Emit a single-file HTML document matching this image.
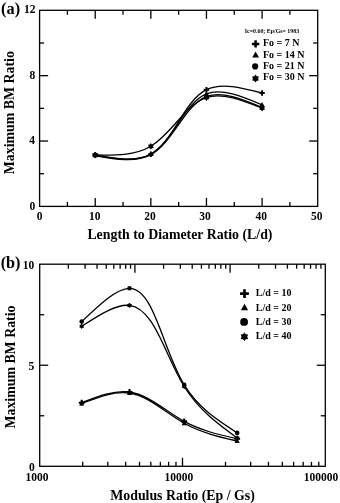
<!DOCTYPE html>
<html><head><meta charset="utf-8"><style>
html,body{margin:0;padding:0;background:#fff;}
body{width:340px;height:503px;overflow:hidden;}
svg{display:block;}
text{font-family:"Liberation Serif","Times New Roman",serif;font-weight:bold;fill:#000;}
</style></head><body>
<svg width="340" height="503" viewBox="0 0 340 503">
<g stroke="#000" fill="#000" stroke-linecap="butt">
<rect x="39.6" y="10.3" width="278.10" height="196.10" fill="none" stroke-width="1.3"/>
<line x1="67.41" y1="206.40" x2="67.41" y2="201.90" stroke-width="1.3"/>
<line x1="67.41" y1="10.30" x2="67.41" y2="14.80" stroke-width="1.3"/>
<line x1="95.22" y1="206.40" x2="95.22" y2="197.90" stroke-width="1.3"/>
<line x1="95.22" y1="10.30" x2="95.22" y2="18.80" stroke-width="1.3"/>
<line x1="123.03" y1="206.40" x2="123.03" y2="201.90" stroke-width="1.3"/>
<line x1="123.03" y1="10.30" x2="123.03" y2="14.80" stroke-width="1.3"/>
<line x1="150.84" y1="206.40" x2="150.84" y2="197.90" stroke-width="1.3"/>
<line x1="150.84" y1="10.30" x2="150.84" y2="18.80" stroke-width="1.3"/>
<line x1="178.65" y1="206.40" x2="178.65" y2="201.90" stroke-width="1.3"/>
<line x1="178.65" y1="10.30" x2="178.65" y2="14.80" stroke-width="1.3"/>
<line x1="206.46" y1="206.40" x2="206.46" y2="197.90" stroke-width="1.3"/>
<line x1="206.46" y1="10.30" x2="206.46" y2="18.80" stroke-width="1.3"/>
<line x1="234.27" y1="206.40" x2="234.27" y2="201.90" stroke-width="1.3"/>
<line x1="234.27" y1="10.30" x2="234.27" y2="14.80" stroke-width="1.3"/>
<line x1="262.08" y1="206.40" x2="262.08" y2="197.90" stroke-width="1.3"/>
<line x1="262.08" y1="10.30" x2="262.08" y2="18.80" stroke-width="1.3"/>
<line x1="289.89" y1="206.40" x2="289.89" y2="201.90" stroke-width="1.3"/>
<line x1="289.89" y1="10.30" x2="289.89" y2="14.80" stroke-width="1.3"/>
<line x1="39.60" y1="173.72" x2="44.10" y2="173.72" stroke-width="1.3"/>
<line x1="317.70" y1="173.72" x2="313.20" y2="173.72" stroke-width="1.3"/>
<line x1="39.60" y1="141.03" x2="48.10" y2="141.03" stroke-width="1.3"/>
<line x1="317.70" y1="141.03" x2="309.20" y2="141.03" stroke-width="1.3"/>
<line x1="39.60" y1="108.35" x2="44.10" y2="108.35" stroke-width="1.3"/>
<line x1="317.70" y1="108.35" x2="313.20" y2="108.35" stroke-width="1.3"/>
<line x1="39.60" y1="75.67" x2="48.10" y2="75.67" stroke-width="1.3"/>
<line x1="317.70" y1="75.67" x2="309.20" y2="75.67" stroke-width="1.3"/>
<line x1="39.60" y1="42.98" x2="44.10" y2="42.98" stroke-width="1.3"/>
<line x1="317.70" y1="42.98" x2="313.20" y2="42.98" stroke-width="1.3"/>
<path d="M95.22,155.00 C115.58,158.76 135.94,162.53 150.84,154.30 C173.67,141.69 183.67,100.91 206.46,89.70 C221.36,82.38 241.72,87.69 262.08,93.00" fill="none" stroke-width="1.3"/>
<path d="M95.22,155.30 C115.45,158.92 135.68,162.54 150.84,154.00 C173.18,141.42 184.53,102.47 206.46,93.80 C221.63,87.80 241.85,96.30 262.08,104.80" fill="none" stroke-width="1.3"/>
<path d="M95.22,155.50 C115.39,159.24 135.56,162.98 150.84,154.60 C172.91,142.49 184.78,105.09 206.46,96.60 C221.75,90.62 241.91,99.01 262.08,107.40" fill="none" stroke-width="1.3"/>
<path d="M95.22,155.00 C115.09,155.38 134.95,155.76 150.84,146.30 C171.70,133.88 185.70,104.48 206.46,97.60 C222.36,92.33 242.22,100.26 262.08,108.20" fill="none" stroke-width="1.3"/>
<path d="M92.52,155.00H97.92M95.22,152.30V157.70" stroke-width="1.9" fill="none"/>
<path d="M148.14,154.30H153.54M150.84,151.60V157.00" stroke-width="1.9" fill="none"/>
<path d="M203.76,89.70H209.16M206.46,87.00V92.40" stroke-width="1.9" fill="none"/>
<path d="M259.38,93.00H264.78M262.08,90.30V95.70" stroke-width="1.9" fill="none"/>
<path d="M95.22,152.47L97.92,157.33L92.52,157.33Z" stroke="none"/>
<path d="M150.84,151.16L153.54,156.03L148.14,156.03Z" stroke="none"/>
<path d="M206.46,90.97L209.16,95.83L203.76,95.83Z" stroke="none"/>
<path d="M262.08,101.97L264.78,106.83L259.38,106.83Z" stroke="none"/>
<circle cx="95.22" cy="155.50" r="2.1" stroke="none"/>
<circle cx="150.84" cy="154.60" r="2.1" stroke="none"/>
<circle cx="206.46" cy="96.60" r="2.1" stroke="none"/>
<circle cx="262.08" cy="107.40" r="2.1" stroke="none"/>
<polygon points="95.22,151.70 96.31,153.11 98.08,153.35 97.40,155.00 98.08,156.65 96.31,156.89 95.22,158.30 94.13,156.89 92.36,156.65 93.04,155.00 92.36,153.35 94.13,153.11" stroke="none"/>
<polygon points="150.84,143.00 151.93,144.41 153.70,144.65 153.02,146.30 153.70,147.95 151.93,148.19 150.84,149.60 149.75,148.19 147.98,147.95 148.66,146.30 147.98,144.65 149.75,144.41" stroke="none"/>
<polygon points="206.46,94.30 207.55,95.71 209.32,95.95 208.64,97.60 209.32,99.25 207.55,99.49 206.46,100.90 205.37,99.49 203.60,99.25 204.28,97.60 203.60,95.95 205.37,95.71" stroke="none"/>
<polygon points="262.08,104.90 263.17,106.31 264.94,106.55 264.26,108.20 264.94,109.85 263.17,110.09 262.08,111.50 260.99,110.09 259.22,109.85 259.90,108.20 259.22,106.55 260.99,106.31" stroke="none"/>
<rect x="39.7" y="264.2" width="285.60" height="202.10" fill="none" stroke-width="1.3"/>
<line x1="82.69" y1="466.30" x2="82.69" y2="461.80" stroke-width="1.3"/>
<line x1="107.83" y1="466.30" x2="107.83" y2="461.80" stroke-width="1.3"/>
<line x1="125.67" y1="466.30" x2="125.67" y2="461.80" stroke-width="1.3"/>
<line x1="139.51" y1="466.30" x2="139.51" y2="461.80" stroke-width="1.3"/>
<line x1="150.82" y1="466.30" x2="150.82" y2="461.80" stroke-width="1.3"/>
<line x1="160.38" y1="466.30" x2="160.38" y2="461.80" stroke-width="1.3"/>
<line x1="168.66" y1="466.30" x2="168.66" y2="461.80" stroke-width="1.3"/>
<line x1="175.97" y1="466.30" x2="175.97" y2="461.80" stroke-width="1.3"/>
<line x1="182.50" y1="466.30" x2="182.50" y2="457.80" stroke-width="1.3"/>
<line x1="225.49" y1="466.30" x2="225.49" y2="461.80" stroke-width="1.3"/>
<line x1="250.63" y1="466.30" x2="250.63" y2="461.80" stroke-width="1.3"/>
<line x1="268.47" y1="466.30" x2="268.47" y2="461.80" stroke-width="1.3"/>
<line x1="282.31" y1="466.30" x2="282.31" y2="461.80" stroke-width="1.3"/>
<line x1="293.62" y1="466.30" x2="293.62" y2="461.80" stroke-width="1.3"/>
<line x1="303.18" y1="466.30" x2="303.18" y2="461.80" stroke-width="1.3"/>
<line x1="311.46" y1="466.30" x2="311.46" y2="461.80" stroke-width="1.3"/>
<line x1="318.77" y1="466.30" x2="318.77" y2="461.80" stroke-width="1.3"/>
<line x1="68.36" y1="264.20" x2="68.36" y2="268.70" stroke-width="1.3"/>
<line x1="85.12" y1="264.20" x2="85.12" y2="268.70" stroke-width="1.3"/>
<line x1="97.02" y1="264.20" x2="97.02" y2="268.70" stroke-width="1.3"/>
<line x1="106.24" y1="264.20" x2="106.24" y2="268.70" stroke-width="1.3"/>
<line x1="113.78" y1="264.20" x2="113.78" y2="268.70" stroke-width="1.3"/>
<line x1="120.15" y1="264.20" x2="120.15" y2="268.70" stroke-width="1.3"/>
<line x1="125.67" y1="264.20" x2="125.67" y2="268.70" stroke-width="1.3"/>
<line x1="130.54" y1="264.20" x2="130.54" y2="268.70" stroke-width="1.3"/>
<line x1="134.90" y1="264.20" x2="134.90" y2="272.70" stroke-width="1.3"/>
<line x1="163.56" y1="264.20" x2="163.56" y2="268.70" stroke-width="1.3"/>
<line x1="180.32" y1="264.20" x2="180.32" y2="268.70" stroke-width="1.3"/>
<line x1="192.22" y1="264.20" x2="192.22" y2="268.70" stroke-width="1.3"/>
<line x1="201.44" y1="264.20" x2="201.44" y2="268.70" stroke-width="1.3"/>
<line x1="208.98" y1="264.20" x2="208.98" y2="268.70" stroke-width="1.3"/>
<line x1="215.35" y1="264.20" x2="215.35" y2="268.70" stroke-width="1.3"/>
<line x1="220.87" y1="264.20" x2="220.87" y2="268.70" stroke-width="1.3"/>
<line x1="225.74" y1="264.20" x2="225.74" y2="268.70" stroke-width="1.3"/>
<line x1="230.10" y1="264.20" x2="230.10" y2="272.70" stroke-width="1.3"/>
<line x1="258.76" y1="264.20" x2="258.76" y2="268.70" stroke-width="1.3"/>
<line x1="275.52" y1="264.20" x2="275.52" y2="268.70" stroke-width="1.3"/>
<line x1="287.42" y1="264.20" x2="287.42" y2="268.70" stroke-width="1.3"/>
<line x1="296.64" y1="264.20" x2="296.64" y2="268.70" stroke-width="1.3"/>
<line x1="304.18" y1="264.20" x2="304.18" y2="268.70" stroke-width="1.3"/>
<line x1="310.55" y1="264.20" x2="310.55" y2="268.70" stroke-width="1.3"/>
<line x1="316.07" y1="264.20" x2="316.07" y2="268.70" stroke-width="1.3"/>
<line x1="320.94" y1="264.20" x2="320.94" y2="268.70" stroke-width="1.3"/>
<line x1="39.70" y1="415.77" x2="44.20" y2="415.77" stroke-width="1.3"/>
<line x1="325.30" y1="415.77" x2="320.80" y2="415.77" stroke-width="1.3"/>
<line x1="39.70" y1="365.25" x2="48.20" y2="365.25" stroke-width="1.3"/>
<line x1="325.30" y1="365.25" x2="316.80" y2="365.25" stroke-width="1.3"/>
<line x1="39.70" y1="314.73" x2="44.20" y2="314.73" stroke-width="1.3"/>
<line x1="325.30" y1="314.73" x2="320.80" y2="314.73" stroke-width="1.3"/>
<path d="M81.70,402.70 C98.07,396.28 114.45,389.86 129.50,392.00 C148.58,394.71 165.55,411.19 184.20,421.40 C200.96,430.57 219.08,434.69 237.20,438.80" fill="none" stroke-width="1.3"/>
<path d="M81.70,403.50 C98.10,397.13 114.50,390.76 129.50,393.00 C148.65,395.86 165.53,412.74 184.20,423.20 C200.91,432.56 219.05,436.78 237.20,441.00" fill="none" stroke-width="1.3"/>
<path d="M81.70,321.60 C99.13,304.92 116.56,288.25 129.50,288.30 C154.16,288.40 162.50,349.24 184.20,384.90 C198.17,407.87 217.69,420.38 237.20,432.90" fill="none" stroke-width="1.3"/>
<path d="M81.70,326.30 C98.97,315.11 116.25,303.92 129.50,305.40 C154.35,308.18 165.06,355.53 184.20,386.50 C198.66,409.90 217.93,423.95 237.20,438.00" fill="none" stroke-width="1.3"/>
<path d="M81.70,400.77L84.30,405.45L79.10,405.45Z" stroke="none"/>
<path d="M129.50,390.27L132.10,394.95L126.90,394.95Z" stroke="none"/>
<path d="M184.20,420.47L186.80,425.15L181.60,425.15Z" stroke="none"/>
<path d="M237.20,438.27L239.80,442.95L234.60,442.95Z" stroke="none"/>
<path d="M78.80,402.70H84.60M81.70,399.80V405.60" stroke-width="2.1" fill="none"/>
<path d="M126.60,392.00H132.40M129.50,389.10V394.90" stroke-width="2.1" fill="none"/>
<path d="M181.30,421.40H187.10M184.20,418.50V424.30" stroke-width="2.1" fill="none"/>
<path d="M234.30,438.80H240.10M237.20,435.90V441.70" stroke-width="2.1" fill="none"/>
<circle cx="81.70" cy="321.60" r="2.3" stroke="none"/>
<circle cx="129.50" cy="288.30" r="2.3" stroke="none"/>
<circle cx="184.20" cy="384.90" r="2.3" stroke="none"/>
<circle cx="237.20" cy="432.90" r="2.3" stroke="none"/>
<polygon points="81.70,323.60 82.59,324.76 84.04,324.95 83.48,326.30 84.04,327.65 82.59,327.84 81.70,329.00 80.81,327.84 79.36,327.65 79.92,326.30 79.36,324.95 80.81,324.76" stroke="none"/>
<polygon points="129.50,302.70 130.39,303.86 131.84,304.05 131.28,305.40 131.84,306.75 130.39,306.94 129.50,308.10 128.61,306.94 127.16,306.75 127.72,305.40 127.16,304.05 128.61,303.86" stroke="none"/>
<polygon points="184.20,383.80 185.09,384.96 186.54,385.15 185.98,386.50 186.54,387.85 185.09,388.04 184.20,389.20 183.31,388.04 181.86,387.85 182.42,386.50 181.86,385.15 183.31,384.96" stroke="none"/>
<polygon points="237.20,435.30 238.09,436.46 239.54,436.65 238.98,438.00 239.54,439.35 238.09,439.54 237.20,440.70 236.31,439.54 234.86,439.35 235.42,438.00 234.86,436.65 236.31,436.46" stroke="none"/>
<path d="M251.90,43.90H259.30M255.60,40.20V47.60" stroke-width="2.5" fill="none"/>
<path d="M255.60,51.60L259.00,57.60L252.20,57.60Z" stroke="none"/>
<circle cx="255.15" cy="66.40" r="3.1" stroke="none"/>
<polygon points="255.50,74.60 256.79,76.27 258.88,76.55 258.07,78.50 258.88,80.45 256.79,80.73 255.50,82.40 254.21,80.73 252.12,80.45 252.93,78.50 252.12,76.55 254.21,76.27" stroke="none"/>
<path d="M240.10,293.60H248.90M244.50,289.20V298.00" stroke-width="2.7" fill="none"/>
<path d="M244.50,303.65L248.10,310.15L240.90,310.15Z" stroke="none"/>
<circle cx="244.10" cy="321.95" r="3.9" stroke="none"/>
<polygon points="244.40,332.45 245.82,334.29 248.12,334.60 247.24,336.75 248.12,338.90 245.82,339.21 244.40,341.05 242.98,339.21 240.68,338.90 241.56,336.75 240.68,334.60 242.98,334.29" stroke="none"/>
</g>
<g stroke="none">
<text x="1.10" y="14.00" font-size="16.3">(a)</text>
<text x="23.90" y="12.75" font-size="11.5">12</text>
<text x="29.50" y="78.55" font-size="11.5">8</text>
<text x="29.30" y="144.15" font-size="11.5">4</text>
<text x="29.55" y="209.60" font-size="11.5">0</text>
<text x="36.65" y="219.50" font-size="11.5">0</text>
<text x="88.95" y="219.50" font-size="11.5">10</text>
<text x="144.30" y="219.50" font-size="11.5">20</text>
<text x="199.30" y="219.50" font-size="11.5">30</text>
<text x="255.40" y="219.50" font-size="11.5">40</text>
<text x="310.90" y="219.50" font-size="11.5">50</text>
<text x="87.40" y="239.00" font-size="13.85">Length to Diameter Ratio (L/d)</text>
<text transform="translate(13.80,174.20) rotate(-90)" font-size="13.85">Maximum BM Ratio</text>
<text x="0.65" y="267.90" font-size="16.3">(b)</text>
<text x="22.65" y="268.70" font-size="11.5">10</text>
<text x="28.55" y="369.55" font-size="11.5">5</text>
<text x="28.90" y="471.05" font-size="11.5">0</text>
<text x="25.50" y="480.55" font-size="11.5">1000</text>
<text x="164.50" y="480.80" font-size="11.5">10000</text>
<text x="303.85" y="481.00" font-size="11.5">100000</text>
<text x="110.20" y="499.70" font-size="13.85">Modulus Ratio (Ep / Gs)</text>
<text transform="translate(14.65,428.60) rotate(-90)" font-size="13.85">Maximum BM Ratio</text>
<text x="262.90" y="46.30" font-size="10">Fo = 7 N</text>
<text x="262.90" y="57.65" font-size="10">Fo = 14 N</text>
<text x="262.90" y="69.00" font-size="10">Fo = 21 N</text>
<text x="262.90" y="80.35" font-size="10">Fo = 30 N</text>
<text x="255.80" y="296.30" font-size="10">L/d = 10</text>
<text x="255.80" y="310.50" font-size="10">L/d = 20</text>
<text x="255.80" y="324.70" font-size="10">L/d = 30</text>
<text x="255.80" y="338.90" font-size="10">L/d = 40</text>
<text x="244.80" y="33.00" font-size="5.9" fill="#2a2a2a">Ic=0.60; Ep/Gs= 1983</text>
</g>
</svg>
</body></html>
